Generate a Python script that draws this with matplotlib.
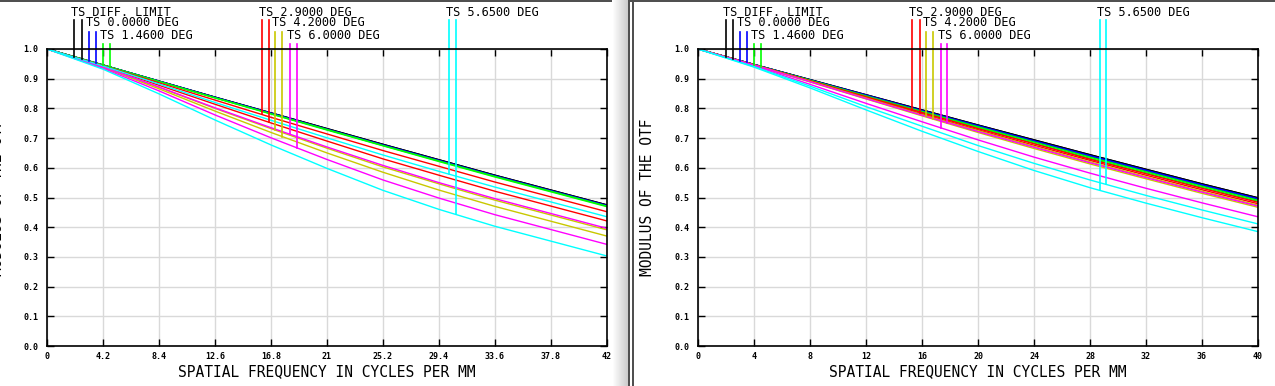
import numpy as np
import matplotlib.pyplot as plt
from matplotlib.patches import Rectangle

# ---- left plot, 0 .. 42 cycles/mm ----
freq_a = [0, 4.2, 8.4, 12.6, 16.8, 21, 25.2, 29.4, 33.6, 37.8, 42]
xlab_a = ["0", "4.2", "8.4", "12.6", "16.8", "21", "25.2", "29.4", "33.6", "37.8", "42"]
diff_a = [1.0, 0.946, 0.892, 0.838, 0.785, 0.732, 0.679, 0.627, 0.575, 0.525, 0.475]
blue_t_a = [1.0, 0.946, 0.892, 0.837, 0.784, 0.730, 0.677, 0.625, 0.573, 0.523, 0.473]
blue_s_a = [1.0, 0.946, 0.891, 0.837, 0.783, 0.729, 0.676, 0.624, 0.572, 0.522, 0.472]
green_t_a = [1.0, 0.946, 0.891, 0.836, 0.782, 0.729, 0.675, 0.623, 0.571, 0.521, 0.471]
green_s_a = [1.0, 0.946, 0.890, 0.835, 0.781, 0.727, 0.674, 0.621, 0.569, 0.519, 0.469]
red_t_a = [1.0, 0.944, 0.886, 0.828, 0.770, 0.714, 0.658, 0.605, 0.552, 0.502, 0.452]
red_s_a = [1.0, 0.942, 0.878, 0.814, 0.751, 0.690, 0.630, 0.575, 0.521, 0.471, 0.421]
yel_t_a = [1.0, 0.939, 0.871, 0.800, 0.732, 0.666, 0.603, 0.546, 0.491, 0.441, 0.391]
yel_s_a = [1.0, 0.938, 0.866, 0.791, 0.719, 0.650, 0.585, 0.525, 0.470, 0.420, 0.370]
mag_t_a = [1.0, 0.940, 0.872, 0.802, 0.735, 0.670, 0.608, 0.550, 0.496, 0.446, 0.396]
mag_s_a = [1.0, 0.935, 0.859, 0.778, 0.701, 0.628, 0.559, 0.498, 0.442, 0.392, 0.342]
cyan_t_a = [1.0, 0.943, 0.882, 0.820, 0.760, 0.701, 0.643, 0.588, 0.535, 0.485, 0.435]
cyan_s_a = [1.0, 0.932, 0.849, 0.761, 0.677, 0.598, 0.524, 0.460, 0.403, 0.353, 0.303]
# x of the two marker lines (T, S) for each field
lead_a = [(2.03, 2.6), (3.15, 3.65), (4.18, 4.73), (16.1, 16.67),
          (17.1, 17.65), (18.2, 18.73), (30.15, 30.65)]

# ---- right plot, 0 .. 40 cycles/mm ----
freq_b = [0, 4, 8, 12, 16, 20, 24, 28, 32, 36, 40]
xlab_b = ["0", "4", "8", "12", "16", "20", "24", "28", "32", "36", "40"]
diff_b = [1.0, 0.948, 0.897, 0.846, 0.795, 0.744, 0.694, 0.644, 0.595, 0.546, 0.499]
blue_t_b = [1.0, 0.948, 0.896, 0.845, 0.793, 0.742, 0.691, 0.641, 0.592, 0.543, 0.496]
blue_s_b = [1.0, 0.948, 0.895, 0.843, 0.791, 0.739, 0.689, 0.638, 0.589, 0.540, 0.493]
green_t_b = [1.0, 0.947, 0.895, 0.842, 0.790, 0.738, 0.687, 0.636, 0.587, 0.538, 0.491]
green_s_b = [1.0, 0.947, 0.894, 0.841, 0.787, 0.735, 0.683, 0.632, 0.583, 0.534, 0.487]
red_t_b = [1.0, 0.947, 0.893, 0.839, 0.786, 0.732, 0.681, 0.629, 0.580, 0.531, 0.484]
red_s_b = [1.0, 0.946, 0.892, 0.837, 0.782, 0.728, 0.676, 0.625, 0.575, 0.526, 0.479]
yel_t_b = [1.0, 0.946, 0.891, 0.835, 0.779, 0.725, 0.672, 0.620, 0.570, 0.521, 0.474]
yel_s_b = [1.0, 0.945, 0.889, 0.832, 0.775, 0.719, 0.665, 0.613, 0.563, 0.514, 0.467]
mag_t_b = [1.0, 0.943, 0.881, 0.817, 0.755, 0.694, 0.636, 0.582, 0.531, 0.482, 0.435]
mag_s_b = [1.0, 0.946, 0.890, 0.833, 0.777, 0.722, 0.669, 0.617, 0.567, 0.518, 0.471]
cyan_t_b = [1.0, 0.941, 0.875, 0.806, 0.740, 0.675, 0.615, 0.559, 0.507, 0.458, 0.411]
cyan_s_b = [1.0, 0.939, 0.869, 0.795, 0.723, 0.655, 0.591, 0.533, 0.481, 0.432, 0.385]
lead_b = [(1.98, 2.48), (3.0, 3.48), (4.0, 4.5), (15.3, 15.86),
          (16.29, 16.81), (17.36, 17.81), (29.14, 28.71)]

fields = ["TS DIFF. LIMIT", "TS 0.0000 DEG", "TS 1.4600 DEG", "TS 2.9000 DEG",
          "TS 4.2000 DEG", "TS 6.0000 DEG", "TS 5.6500 DEG"]
colors = ["black", "#0000ff", "#00ff00", "#ff0000", "#c8c800", "#ff00ff", "#00ffff"]
rows = [0, 1, 2, 0, 1, 2, 0]
ylab = ["%.1f" % (i / 10) for i in range(11)]

MONO = "DejaVu Sans Mono"
W, H = 1275, 386

fig = plt.figure(figsize=(W / 100, H / 100), dpi=100)


def mtf_plot(ax, freq, xlab, curves, leads):
    for k in range(len(fields)):
        t, s = curves[k]
        ax.plot(freq, t, color=colors[k], lw=1.0)
        ax.plot(freq, s, color=colors[k], lw=1.0)
    # marker lines going up to the field labels
    line_top = [1.098, 1.057, 1.017]
    text_y = [1.122, 1.089, 1.047]
    for k in range(len(fields)):
        t, s = curves[k]
        x1, x2 = leads[k]
        r = rows[k]
        ax.plot([x1, x1], [np.interp(x1, freq, t), line_top[r]], color=colors[k], lw=1.2, clip_on=False)
        ax.plot([x2, x2], [np.interp(x2, freq, s), line_top[r]], color=colors[k], lw=1.2, clip_on=False)
        ax.annotate(fields[k], xy=(min(x1, x2), text_y[r]), xytext=(-2, 0),
                    textcoords="offset points", ha="left", va="center",
                    family=MONO, fontsize=8.6, annotation_clip=False)
    ax.set_xlim(freq[0], freq[-1])
    ax.set_ylim(0, 1)
    ax.set_xticks(freq)
    ax.set_xticklabels(xlab)
    ax.set_yticks(np.arange(11) / 10)
    ax.set_yticklabels(ylab)
    ax.grid(True, color="#d9d9d9", lw=1.0)
    ax.set_axisbelow(True)
    ax.tick_params(direction="in", length=5, width=1, top=True, right=True,
                   labelsize=6, colors="black")
    ax.tick_params(axis="x", pad=4)
    ax.tick_params(axis="y", pad=6)
    for lbl in ax.get_xticklabels() + ax.get_yticklabels():
        lbl.set_family(MONO)
        lbl.set_fontweight("bold")
    for sp in ax.spines.values():
        sp.set_linewidth(1.2)


ax1 = fig.add_axes([47 / W, 40 / H, 560 / W, 297 / H])
mtf_plot(ax1, freq_a, xlab_a,
         [(diff_a, diff_a), (blue_t_a, blue_s_a), (green_t_a, green_s_a), (red_t_a, red_s_a),
          (yel_t_a, yel_s_a), (mag_t_a, mag_s_a), (cyan_t_a, cyan_s_a)], lead_a)

ax2 = fig.add_axes([698 / W, 40 / H, 560 / W, 297 / H])
mtf_plot(ax2, freq_b, xlab_b,
         [(diff_b, diff_b), (blue_t_b, blue_s_b), (green_t_b, green_s_b), (red_t_b, red_s_b),
          (yel_t_b, yel_s_b), (mag_t_b, mag_s_b), (cyan_t_b, cyan_s_b)], lead_b)

# axis titles
for cx in [327, 978]:
    fig.text(cx / W, (H - 372) / H, "SPATIAL FREQUENCY IN CYCLES PER MM",
             ha="center", va="center", family=MONO, fontsize=10.5)
for cx in [-2, 648]:
    fig.text(cx / W, (H - 197) / H, "MODULUS OF THE OTF", rotation=90,
             ha="center", va="center", family=MONO, fontsize=10.5)

# window frames
fig.add_artist(Rectangle((0, 1 - 2 / H), 1, 2 / H, transform=fig.transFigure, color="#505050", lw=0))
for i in range(16):
    g = 1.0 - 0.2 * i / 15
    fig.add_artist(Rectangle(((612 + i) / W, 0), 1 / W, 1, transform=fig.transFigure,
                             color=(g, g, g), lw=0))
fig.add_artist(Rectangle((628 / W, 0), 2 / W, 1, transform=fig.transFigure, color="#505050", lw=0))
fig.add_artist(Rectangle((632 / W, 0), 2 / W, 1, transform=fig.transFigure, color="#505050", lw=0))

fig.savefig("out.png", dpi=100)
